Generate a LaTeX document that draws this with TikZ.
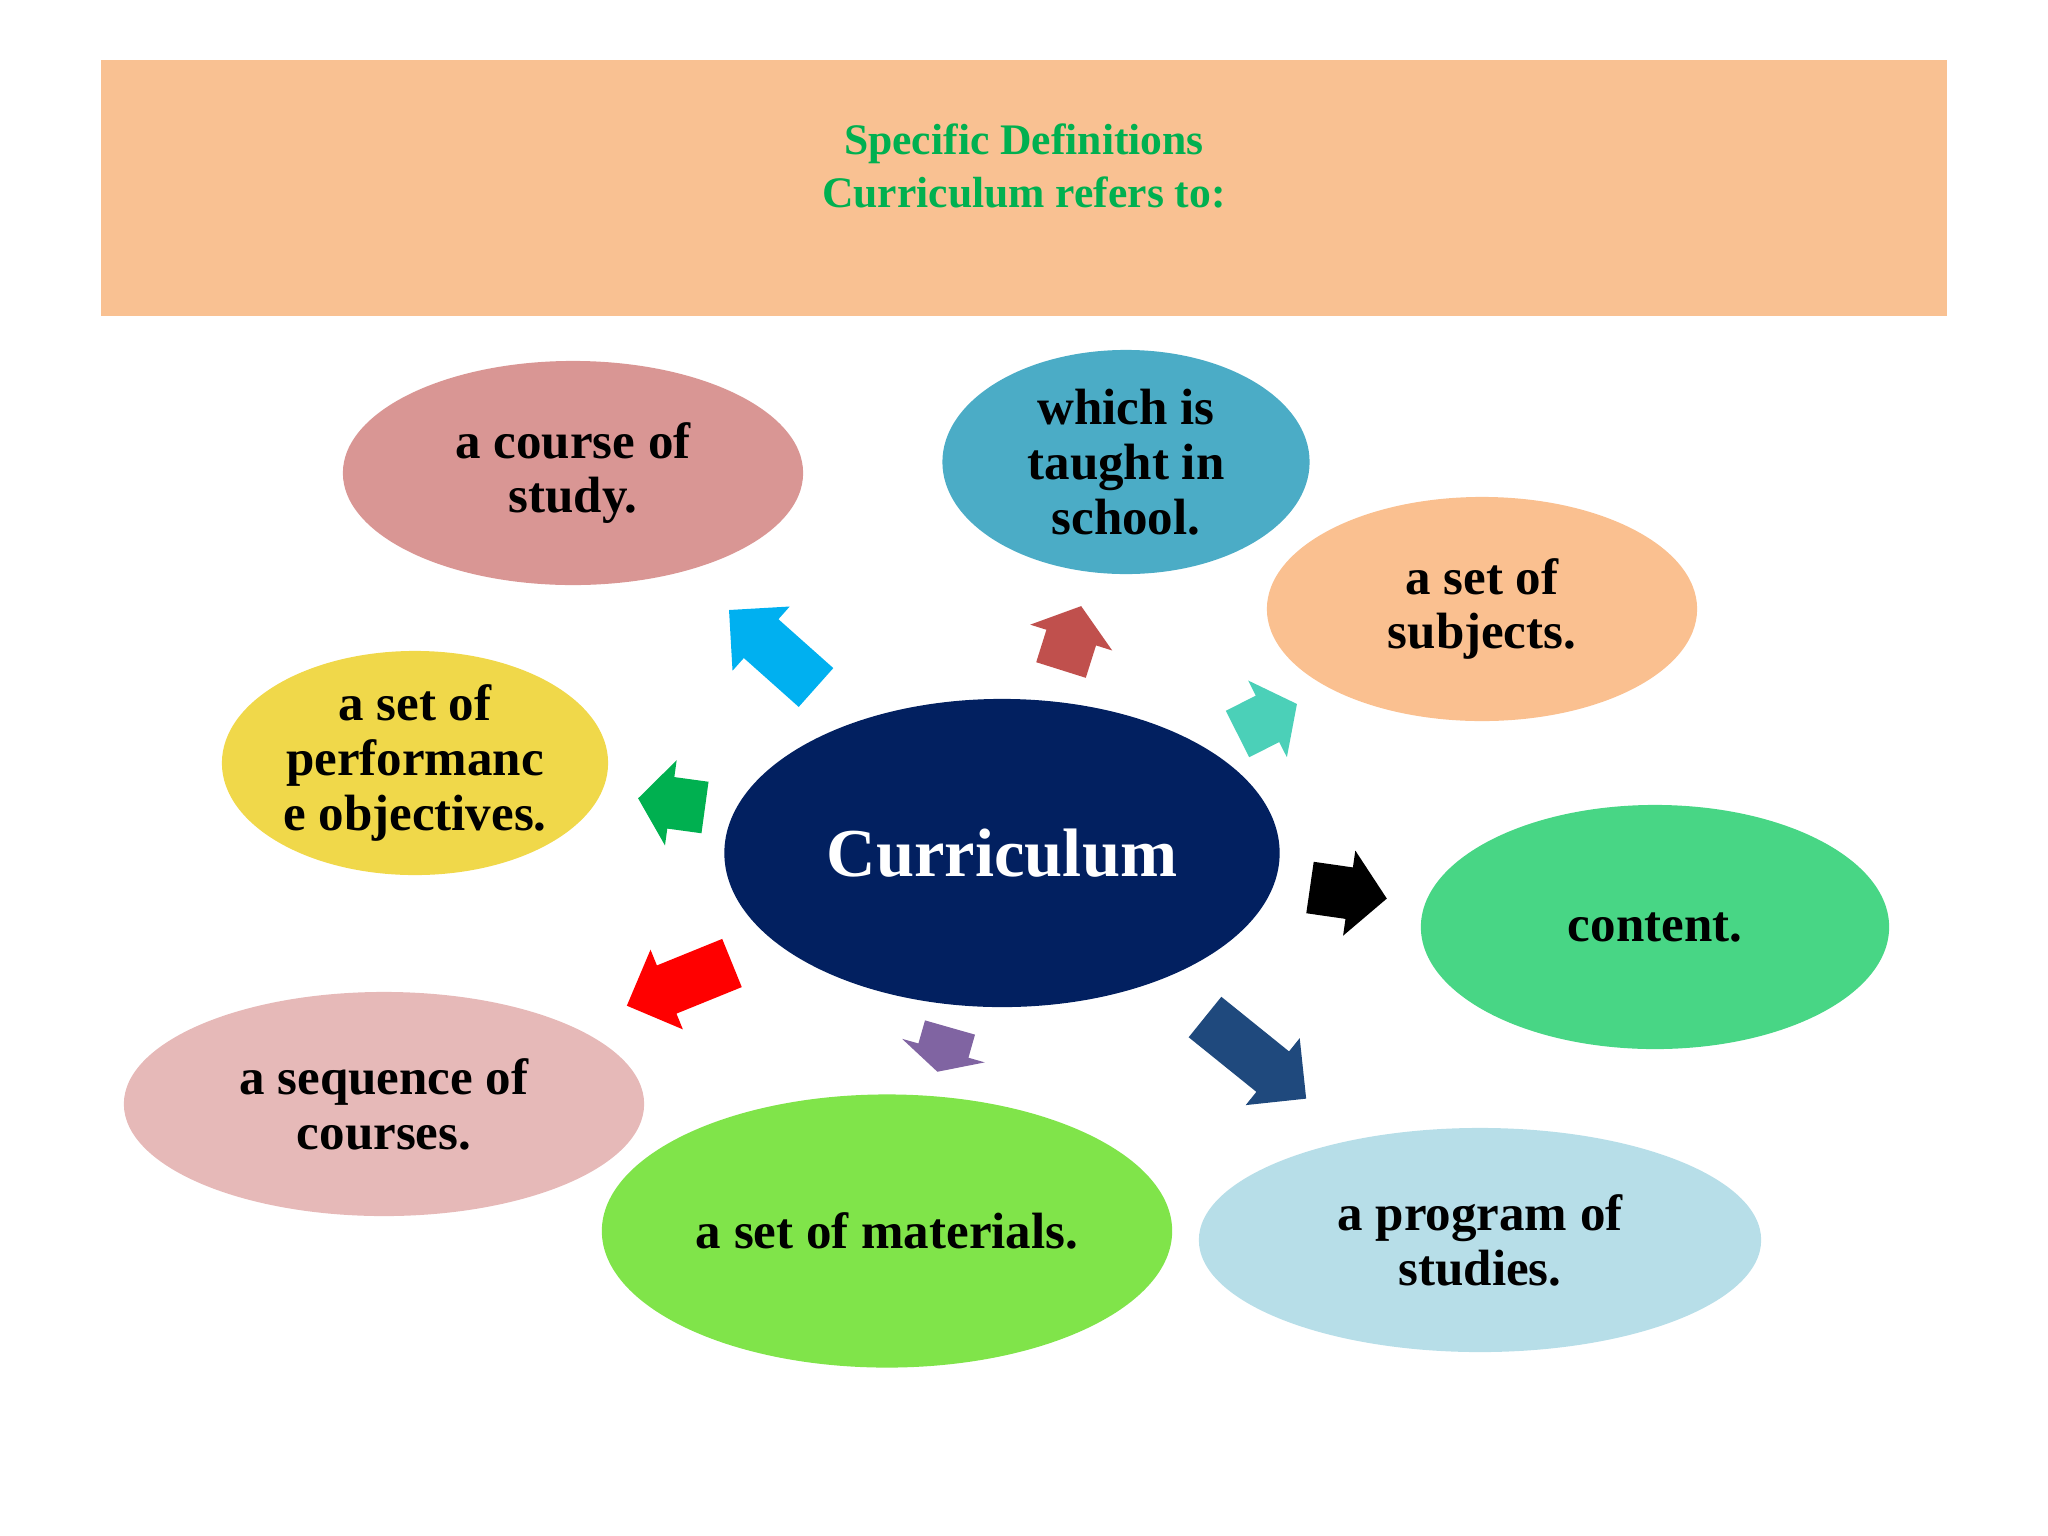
\documentclass[tikz,border=0pt]{standalone}
\usepackage{fontspec}
\setmainfont{Liberation Serif}
\usetikzlibrary{shapes.geometric}

\definecolor{bannercol}{HTML}{F9C192}
\definecolor{titlecol}{HTML}{00B050}
\definecolor{centrecol}{HTML}{022060}
\definecolor{coursecol}{HTML}{D99694}
\definecolor{taughtcol}{HTML}{4BACC6}
\definecolor{subjectcol}{HTML}{FAC090}
\definecolor{perfcol}{HTML}{F0D84A}
\definecolor{contentcol}{HTML}{48D685}
\definecolor{seqcol}{HTML}{E6B9B8}
\definecolor{matcol}{HTML}{80E44A}
\definecolor{progcol}{HTML}{B7DEE8}
\definecolor{cyanarr}{HTML}{00B0F0}
\definecolor{brownarr}{HTML}{C0504D}
\definecolor{tealarr}{HTML}{4BD0B8}
\definecolor{greenarr}{HTML}{00B050}
\definecolor{redarr}{HTML}{FF0000}
\definecolor{purplearr}{HTML}{8064A2}
\definecolor{navyarr}{HTML}{1F497D}

% colour, tail point, angle, length, head length
\newcommand{\blockarrow}[5]{%
  \fill[#1, shift={#2}, rotate=#3] (0,-26) -- ({#4-#5},-26) -- ({#4-#5},-43) -- (#4,0)
    -- ({#4-#5},43) -- ({#4-#5},26) -- (0,26) -- cycle;}

\begin{document}
\begin{tikzpicture}[
	x=0.01cm, y=-0.01cm,
	blob/.style={ ellipse, inner sep=0pt, align=center, font=\fontsize{14.5}{15.6}\selectfont\bfseries },
	banner/.style={ rectangle, fill=bannercol, inner sep=0pt, minimum width=18.44cm, minimum height=2.56cm }
]
\useasboundingbox (0,0) rectangle (2048,1536);

\node at (1024,188) (head) [banner] {};
\node at (1024,166) (title) [text=titlecol, align=center, font=\fontsize{12.4}{15.2}\selectfont\bfseries] {Specific Definitions\\Curriculum refers to:};

\node at (1002,853) (curr) [blob, fill=centrecol, text=white, minimum width=5.55cm, minimum height=3.08cm, font=\fontsize{19.5}{22}\selectfont\bfseries] {Curriculum};

\node at (573,473) (course) [blob, fill=coursecol, minimum width=4.6cm, minimum height=2.24cm] {a course of\\study.};
\node at (1126,462) (taught) [blob, fill=taughtcol, minimum width=3.67cm, minimum height=2.24cm] {which is\\taught in\\school.};
\node at (1482,609) (subjects) [blob, fill=subjectcol, minimum width=4.3cm, minimum height=2.24cm] {a set of\\subjects.};
\node at (415,763) (perform) [blob, fill=perfcol, minimum width=3.86cm, minimum height=2.24cm] {a set of\\performanc\\e objectives.};
\node at (1655,927) (content) [blob, fill=contentcol, minimum width=4.68cm, minimum height=2.44cm] {content.};
\node at (384,1104) (sequence) [blob, fill=seqcol, minimum width=5.2cm, minimum height=2.24cm] {a sequence of\\courses.};
\node at (887,1231) (materials) [blob, fill=matcol, minimum width=5.7cm, minimum height=2.73cm] {a set of materials.};
\node at (1480,1240) (program) [blob, fill=progcol, minimum width=5.62cm, minimum height=2.24cm] {a program of\\studies.};

\foreach \col/\x/\y/\ang/\len/\hd in {cyanarr/816/687.5/138.3/116.5/43, brownarr/1061/670/72.5/67/33,
	tealarr/1237.5/734/26.8/66.6/33, greenarr/705/807.5/172.2/67.5/33, black/1310/887.5/-8.2/77.6/38,
	redarr/732/963/202.1/113.5/43, purplearr/950/1027.5/-105.9/46/22, navyarr/1205/1017/-38.9/130/43}
	\blockarrow{\col}{(\x,\y)}{\ang}{\len}{\hd};

\end{tikzpicture}
\end{document}
